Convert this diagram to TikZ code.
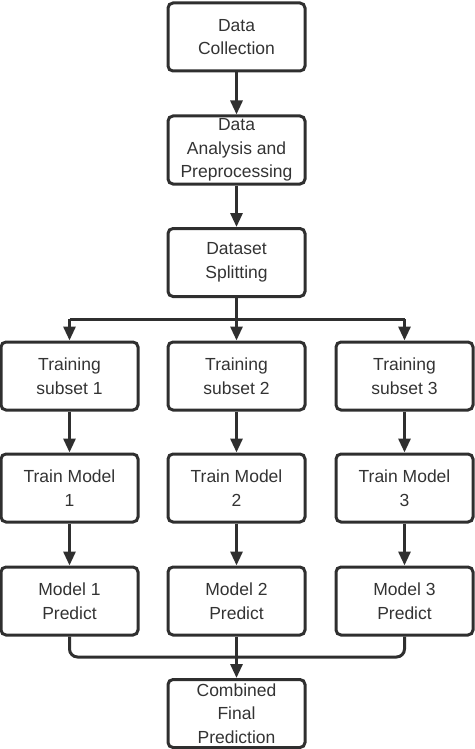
\documentclass[tikz,border=0pt]{standalone}
\usepackage{fontspec}
\setmainfont{Liberation Sans}
\usetikzlibrary{arrows.meta}
\definecolor{ln}{HTML}{2F2F2F}
\definecolor{tx}{HTML}{333333}
\tikzset{
  box/.style={draw=ln, line width=3pt, rounded corners=5pt, minimum width=137pt, minimum height=68pt,
    inner sep=0pt, align=center, text=tx, font=\fontsize{17.5}{23.5}\selectfont},
  conn/.style={draw=ln, line width=3pt},
  arr/.style={conn, -{Triangle[length=14pt,width=12pt]}}
}
\begin{document}
\begin{tikzpicture}[x=1pt,y=-1pt]
\useasboundingbox (0,0) rectangle (474,749);
\node[box] (dc) at (236.5,37) {Data\\Collection};
\node[box] (da) at (236.5,150) {Data\\Analysis and\\Preprocessing};
\node[box] (ds) at (236.5,262.5) {Dataset\\Splitting};
\node[box] (t1) at (69.5,376) {Training\\subset 1};
\node[box] (t2) at (236.5,376) {Training\\subset 2};
\node[box] (t3) at (404.5,376) {Training\\subset 3};
\node[box] (m1) at (69.5,488) {Train Model\\1};
\node[box] (m2) at (236.5,488) {Train Model\\2};
\node[box] (m3) at (404.5,488) {Train Model\\3};
\node[box] (p1) at (69.5,601) {Model 1\\Predict};
\node[box] (p2) at (236.5,601) {Model 2\\Predict};
\node[box] (p3) at (404.5,601) {Model 3\\Predict};
\node[box] (cf) at (236.5,713.5) {Combined\\Final\\Prediction};
\draw[arr] (dc) -- (da);
\draw[arr] (da) -- (ds);
\coordinate (sp) at (236.5,319);
\draw[conn] (ds) -- (sp);
\draw[conn] (t1.north |- sp) -- (t3.north |- sp);
\draw[arr] (sp) -- (t2);
\draw[arr] (t1.north |- sp) -- (t1);
\draw[arr] (t3.north |- sp) -- (t3);
\draw[arr] (t1) -- (m1);
\draw[arr] (t2) -- (m2);
\draw[arr] (t3) -- (m3);
\draw[arr] (m1) -- (p1);
\draw[arr] (m2) -- (p2);
\draw[arr] (m3) -- (p3);
\coordinate (mg) at (236.5,657);
\draw[conn, rounded corners=8pt] (p1.south) -- (p1.south |- mg) -- (p3.south |- mg) -- (p3.south);
\draw[arr] (p2) -- (cf);
\end{tikzpicture}
\end{document}
